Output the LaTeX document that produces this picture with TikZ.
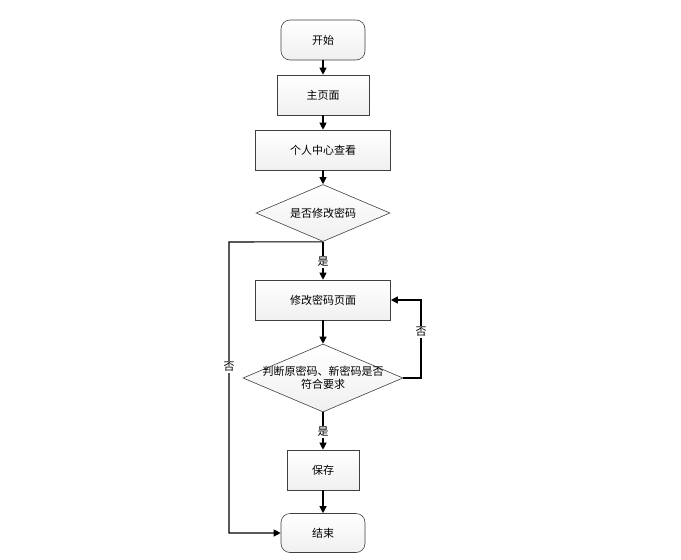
\documentclass[tikz,border=0pt]{standalone}
\usepackage{fontspec}
\setmainfont{Noto Sans CJK SC}
\usetikzlibrary{shapes.geometric,arrows.meta}
\begin{document}
\begin{tikzpicture}[x=1pt,y=-1pt,
  box/.style={draw=black!75,line width=0.6pt,top color=white,bottom color=blue!8!black!6,font=\fontsize{11}{13}\selectfont,inner sep=0pt,align=center},
  rbox/.style={box,rounded corners=9pt},
  arr/.style={-{Triangle[length=7pt,width=7pt]},line width=1.1pt},
  lab/.style={font=\fontsize{11}{13}\selectfont,fill=white,inner sep=1pt}]
\useasboundingbox (0,0) rectangle (681,560);
\node[rbox,minimum width=84pt,minimum height=40pt] (s) at (323,40) {开始};
\node[box,minimum width=92pt,minimum height=40pt] (h) at (323,95) {主页面};
\node[box,minimum width=135pt,minimum height=40pt] (p) at (323,150) {个人中心查看};
\node[box,diamond,shape aspect=2.35,minimum width=134pt,minimum height=57pt] (d1) at (323,213) {是否修改密码};
\node[box,minimum width=135pt,minimum height=40pt] (m) at (323,300) {修改密码页面};
\node[box,diamond,shape aspect=2.35,inner sep=-14pt,minimum width=160pt,minimum height=68pt] (d2) at (323,378) {判断原密码、新密码是否\\符合要求};
\node[box,minimum width=72pt,minimum height=40pt] (v) at (323,470) {保存};
\node[rbox,minimum width=84pt,minimum height=39pt] (e) at (323,533) {结束};
\draw[arr] (s) -- (h);
\draw[arr] (h) -- (p);
\draw[arr] (p) -- (d1);
\draw[arr] (d1) -- (m);
\draw[arr] (m) -- (d2);
\draw[arr] (d2) -- (v);
\draw[arr] (v) -- (e);
\node[lab] (y1) at (323,262) {是};
\node[lab] (y2) at (323,432) {是};
\coordinate (l1) at (229,242);
\draw[arr] (d1.south) -- (l1) |- (e.west);
\node[lab] (n1) at (229,367) {否};
\coordinate (r1) at (421,378);
\draw[arr] (d2.east) -- (r1) |- (m.east);
\node[lab] (n2) at (421,332) {否};
\end{tikzpicture}
\end{document}
